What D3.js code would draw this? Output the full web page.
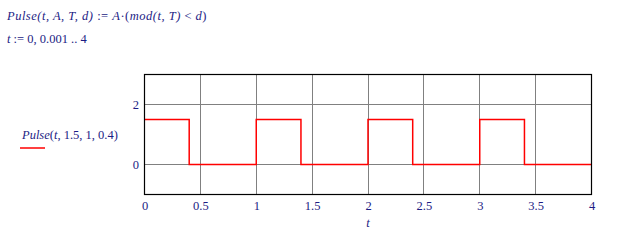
<!DOCTYPE html>
<html>
<head>
<meta charset="utf-8">
<script src="https://cdn.jsdelivr.net/npm/d3@7"></script>
<style>
  body { margin: 0; background: #fff; }
  text { font-family: "Liberation Serif", "Times New Roman", serif; fill: #1c1c84; }
</style>
</head>
<body>
<div id="plot"></div>
<script>
// size of the whole picture
var svgWidth = 617;
var svgHeight = 240;

// plot box inside the picture
var margin = { top: 74, right: 26, bottom: 46, left: 144 };
var width = svgWidth - margin.left - margin.right;
var height = svgHeight - margin.top - margin.bottom;

// data: corners of the pulse trace Pulse(t, 1.5, 1, 0.4)
var pulseT = [0, 0.4, 0.4, 1, 1, 1.4, 1.4, 2, 2, 2.4, 2.4, 3, 3, 3.4, 3.4, 4];
var pulseY = [1.5, 1.5, 0, 0, 1.5, 1.5, 0, 0, 1.5, 1.5, 0, 0, 1.5, 1.5, 0, 0];

// ticks
var xTicks = [0, 0.5, 1, 1.5, 2, 2.5, 3, 3.5, 4];
var yTicks = [0, 2];
var xDomain = [0, 4];
var yDomain = [-1, 3];

var svg = d3.select("#plot")
  .append("svg")
  .attr("width", svgWidth)
  .attr("height", svgHeight);

// formula lines at the top
var f1 = svg.append("text")
  .attr("x", 7)
  .attr("y", 20)
  .attr("font-size", "12.5px")
  .attr("letter-spacing", "0.5px");
f1.append("tspan").attr("font-style", "italic").text("Pulse(t, A, T, d)");
f1.append("tspan").text(" := ");
f1.append("tspan").attr("font-style", "italic").text("A");
f1.append("tspan").text("·(");
f1.append("tspan").attr("font-style", "italic").text("mod(t, T)");
f1.append("tspan").text(" < ");
f1.append("tspan").attr("font-style", "italic").text("d");
f1.append("tspan").text(")");

var f2 = svg.append("text")
  .attr("x", 7)
  .attr("y", 43)
  .attr("font-size", "12.5px");
f2.append("tspan").attr("font-style", "italic").text("t");
f2.append("tspan").text(" := 0, 0.001 .. 4");

// legend on the left
var leg = svg.append("text")
  .attr("x", 22)
  .attr("y", 139)
  .attr("font-size", "12.5px");
leg.append("tspan").attr("font-style", "italic").text("Pulse");
leg.append("tspan").text("(");
leg.append("tspan").attr("font-style", "italic").text("t");
leg.append("tspan").text(", 1.5, 1, 0.4)");

svg.append("line")
  .attr("x1", 20).attr("x2", 45)
  .attr("y1", 148).attr("y2", 148)
  .attr("stroke", "#ff0000")
  .attr("stroke-width", 1.5);

var chartGroup = svg.append("g")
  .attr("transform", `translate(${margin.left + 0.5}, ${margin.top + 0.5})`);

var xScale = d3.scaleLinear().domain(xDomain).range([0, width]);
var yScale = d3.scaleLinear().domain(yDomain).range([height, 0]);

// grid lines
chartGroup.selectAll(".vgrid")
  .data(xTicks.filter(d => d > xDomain[0] && d < xDomain[1]))
  .enter()
  .append("line")
  .attr("x1", d => Math.round(xScale(d)))
  .attr("x2", d => Math.round(xScale(d)))
  .attr("y1", 0)
  .attr("y2", height)
  .attr("stroke", "#808080");

chartGroup.selectAll(".hgrid")
  .data(yTicks)
  .enter()
  .append("line")
  .attr("x1", 0)
  .attr("x2", width)
  .attr("y1", d => Math.round(yScale(d)))
  .attr("y2", d => Math.round(yScale(d)))
  .attr("stroke", "#808080");

// pulse trace
var points = pulseT.map((t, i) => [t, pulseY[i]]);
var line = d3.line()
  .x(d => xScale(d[0]))
  .y(d => yScale(d[1]));

chartGroup.append("path")
  .datum(points)
  .attr("d", line)
  .attr("fill", "none")
  .attr("stroke", "#ff0000")
  .attr("stroke-width", 1.5);

// frame
chartGroup.append("rect")
  .attr("x", 0)
  .attr("y", 0)
  .attr("width", width)
  .attr("height", height)
  .attr("fill", "none")
  .attr("stroke", "#000")
  .attr("stroke-width", 1.2);

// axes (labels only)
var bottomAxis = d3.axisBottom(xScale)
  .tickValues(xTicks)
  .tickFormat(d3.format("~g"))
  .tickSize(0)
  .tickPadding(6.5);

var leftAxis = d3.axisLeft(yScale)
  .tickValues(yTicks)
  .tickFormat(d3.format("~g"))
  .tickSize(0)
  .tickPadding(5.5);

var xAxis = chartGroup.append("g")
  .attr("transform", `translate(0, ${height})`)
  .call(bottomAxis);

var yAxis = chartGroup.append("g")
  .call(leftAxis);

[xAxis, yAxis].forEach(function(ax) {
  ax.select(".domain").remove();
  ax.selectAll("text")
    .attr("font-family", "Liberation Serif, serif")
    .attr("font-size", "12.5px")
    .attr("fill", "#1c1c84");
});

// x axis title
chartGroup.append("text")
  .attr("x", xScale(2))
  .attr("y", height + 32)
  .attr("text-anchor", "middle")
  .attr("font-size", "12.5px")
  .attr("font-style", "italic")
  .text("t");
</script>
</body>
</html>
